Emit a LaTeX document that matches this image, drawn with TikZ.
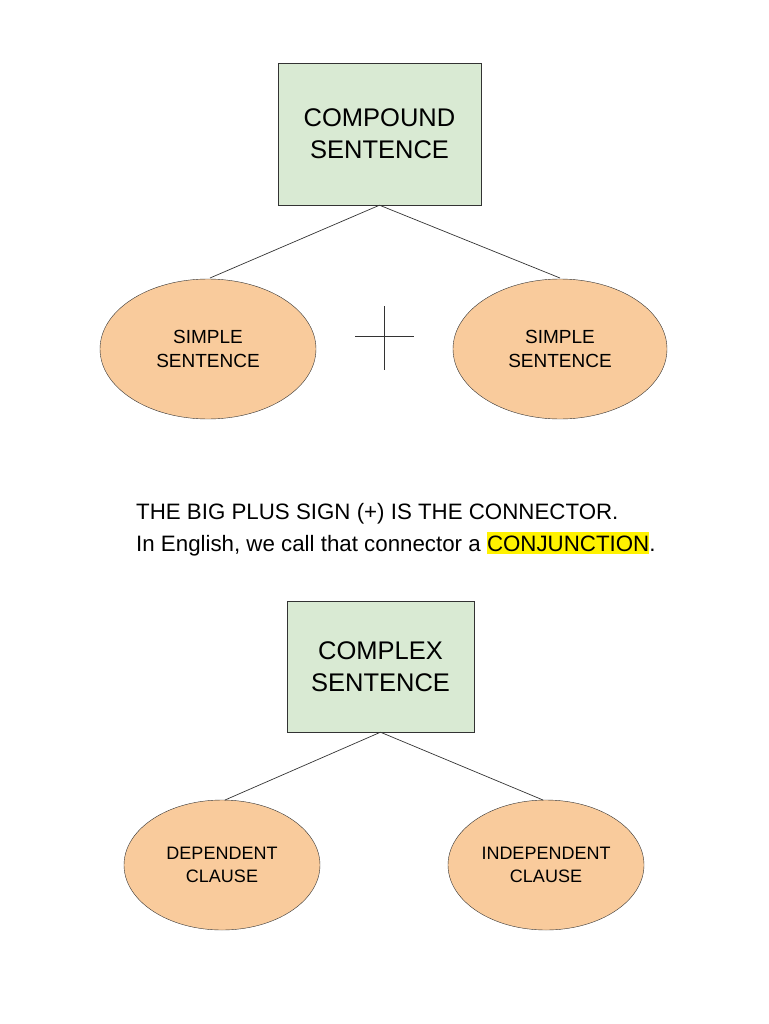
\documentclass[tikz,border=0pt]{standalone}
\usepackage{fontspec}
\setmainfont{Liberation Sans}
\usetikzlibrary{shapes.geometric}
\definecolor{boxg}{HTML}{D9EAD3}
\definecolor{ell}{HTML}{F9CB9C}
\begin{document}
\begin{tikzpicture}[x=1pt,y=-1pt,
  box/.style={draw=black!80,fill=boxg,align=center,font=\fontsize{25.5}{32}\selectfont,inner sep=0},
  el/.style={ellipse,draw=black!80,fill=ell,align=center,font=\fontsize{19}{24}\selectfont,inner sep=0},
  ln/.style={draw=black!80,line width=0.7pt}]
\useasboundingbox (0,0) rectangle (768,1024);
\node[box,minimum width=203pt,minimum height=142pt] (c1) at (379.5,134) {COMPOUND\\SENTENCE};
\node[el,minimum width=216pt,minimum height=140pt] (s1) at (208,349) {SIMPLE\\SENTENCE};
\node[el,minimum width=214pt,minimum height=140pt] (s2) at (560,349) {SIMPLE\\SENTENCE};
\coordinate (t1) at (210,278); \coordinate (t2) at (560,278);
\draw[ln] (c1.south) -- (t1);
\draw[ln] (c1.south) -- (t2);
\coordinate (pl) at (355,336); \coordinate (pr) at (414,336);
\coordinate (pt) at (384,306); \coordinate (pb) at (384,370);
\draw[ln] (pl) -- (pr);
\draw[ln] (pt) -- (pb);
\node[anchor=base west,font=\fontsize{22.3}{27}\selectfont,inner sep=0] (l1) at (136,519) {THE BIG PLUS SIGN (+) IS THE CONNECTOR.};
\node[anchor=base west,font=\fontsize{22.3}{27}\selectfont,inner sep=0] (l2) at (136,551) {In English, we call that connector a \colorbox{yellow}{\hspace{-3pt}CONJUNCTION\hspace{-3pt}}.};
\node[box,minimum width=187pt,minimum height=131pt] (c2) at (380.5,666.5) {COMPLEX\\SENTENCE};
\node[el,minimum width=196pt,minimum height=130pt,font=\fontsize{18}{23}\selectfont] (d1) at (222,865) {DEPENDENT\\CLAUSE};
\node[el,minimum width=196pt,minimum height=130pt,font=\fontsize{18}{23}\selectfont] (d2) at (546,865) {INDEPENDENT\\CLAUSE};
\coordinate (u1) at (225,800); \coordinate (u2) at (543,800);
\draw[ln] (c2.south) -- (u1);
\draw[ln] (c2.south) -- (u2);
\end{tikzpicture}
\end{document}
